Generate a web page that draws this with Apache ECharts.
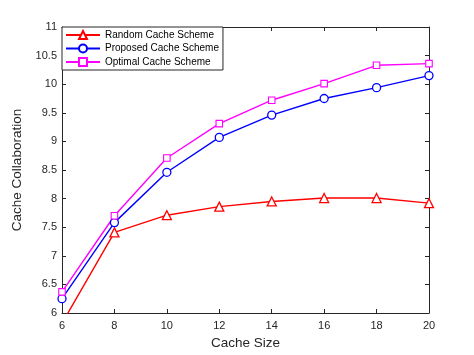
<!DOCTYPE html>
<html><head><meta charset="utf-8">
<script src="https://cdn.jsdelivr.net/npm/echarts@6/dist/echarts.min.js"></script>
<style>html,body{margin:0;padding:0;background:#fff}#c{width:474px;height:355px}</style>
</head><body><div id="c"></div>
<script>
const cacheSize = [6, 8, 10, 12, 14, 16, 18, 20];
const randomScheme = [5.82, 7.41, 7.71, 7.86, 7.95, 8.01, 8.01, 7.92];
const proposedScheme = [6.25, 7.58, 8.46, 9.07, 9.46, 9.75, 9.94, 10.15];
const optimalScheme = [6.37, 7.70, 8.71, 9.31, 9.72, 10.01, 10.33, 10.36];
const names = ['Random Cache Scheme', 'Proposed Cache Scheme', 'Optimal Cache Scheme'];

const ax = '#262626';
const font = 'Liberation Sans, Arial, sans-serif';
const pair = arr => cacheSize.map((x, i) => [x, arr[i]]);
const chart = echarts.init(document.getElementById('c'));
const baseX = {type:'value', min:6, max:20, interval:2,
  axisLine:{show:true, onZero:false, lineStyle:{color:ax, width:1}},
  axisTick:{show:true, inside:true, length:4, lineStyle:{color:ax}},
  splitLine:{show:false}};
const baseY = {type:'value', min:6, max:11, interval:0.5,
  axisLine:{show:true, onZero:false, lineStyle:{color:ax, width:1}},
  axisTick:{show:true, inside:true, length:4, lineStyle:{color:ax}},
  splitLine:{show:false}};
chart.setOption({
  animation:false,
  backgroundColor:'#fff',
  grid:{left:62, right:45, top:27, bottom:39, containLabel:false},
  xAxis:[
    Object.assign({}, baseX, {position:'bottom', name:'Cache Size', nameLocation:'middle', nameGap:23,
      nameTextStyle:{color:ax, fontSize:13.5, fontFamily:font},
      axisLabel:{color:ax, fontSize:11, fontFamily:font, margin:7}}),
    Object.assign({}, baseX, {position:'top', axisLabel:{show:false}})
  ],
  yAxis:[
    Object.assign({}, baseY, {position:'left', name:'Cache Collaboration', nameLocation:'middle', nameGap:29,
      nameTextStyle:{color:ax, fontSize:13.5, fontFamily:font},
      axisLabel:{color:ax, fontSize:11, fontFamily:font, margin:5}}),
    Object.assign({}, baseY, {position:'right', axisLabel:{show:false}})
  ],
  legend:{
    left:62, top:27, orient:'vertical', itemGap:3.5, itemWidth:34, itemHeight:10,
    padding:[3,4,3,3], borderColor:ax, borderWidth:1, backgroundColor:'#fff',
    textStyle:{color:'#000', fontSize:10, fontFamily:font, padding:[0,0,0,0]},
    data:names
  },
  series:[
    {name:names[0], type:'line', data:pair(randomScheme), symbol:'triangle', symbolSize:9,
     lineStyle:{color:'#ff0000', width:1.4}, itemStyle:{color:'#fff', borderColor:'#ff0000', borderWidth:1.3}, color:'#ff0000', clip:true},
    {name:names[1], type:'line', data:pair(proposedScheme), symbol:'circle', symbolSize:8,
     lineStyle:{color:'#0000ff', width:1.4}, itemStyle:{color:'#fff', borderColor:'#0000ff', borderWidth:1.3}, color:'#0000ff', clip:true},
    {name:names[2], type:'line', data:pair(optimalScheme), symbol:'rect', symbolSize:6.5,
     lineStyle:{color:'#ff00ff', width:1.4}, itemStyle:{color:'#fff', borderColor:'#ff00ff', borderWidth:1.1}, color:'#ff00ff', clip:true}
  ]
});
</script></body></html>
